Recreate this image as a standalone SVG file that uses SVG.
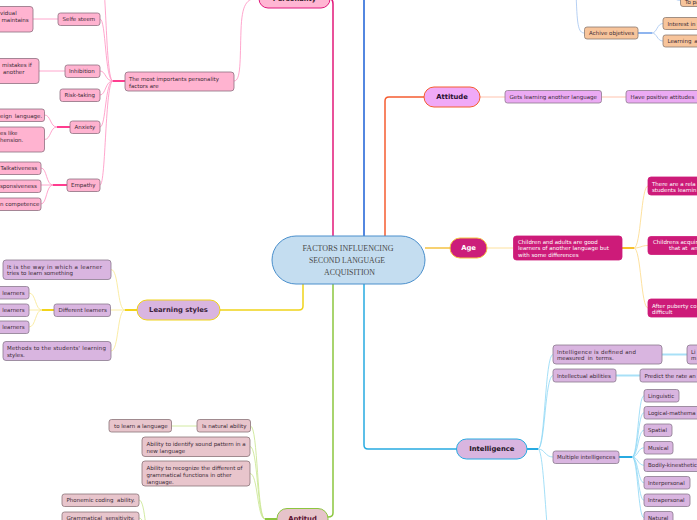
<svg xmlns="http://www.w3.org/2000/svg" width="697" height="520" viewBox="0 0 697 520">
<style>
.t{font-family:"DejaVu Sans",Verdana,sans-serif;font-size:5.5px;fill:#3a2a35}
.w{fill:#ffffff}
.b{font-family:"DejaVu Sans",Verdana,sans-serif;font-weight:bold;font-size:6.8px;text-anchor:middle}
.c{font-family:"Liberation Serif","DejaVu Serif",serif;font-size:9px;fill:#4a4a4a;text-anchor:middle}
.pk{fill:#ffb3d0;stroke:#8e7080;stroke-width:0.8}
.vi{fill:#ebaaf3;stroke:#8e7a8e;stroke-width:0.8}
.pe{fill:#f7c49b;stroke:#8a7a70;stroke-width:0.8}
.mg{fill:#cd1b79;stroke:#cd1b79;stroke-width:0.8}
.lv{fill:#d9b5e0;stroke:#8a7a8e;stroke-width:0.8}
.ro{fill:#e8c5cc;stroke:#8a7478;stroke-width:0.8}
.l{fill:none;stroke-width:0.8}
.m{fill:none;stroke-width:1.5}
.k{fill:none;stroke-width:2}
</style>
<rect x="0" y="0" width="697" height="520" fill="#ffffff"/>
<g id="connectors">
  <!-- main -->
  <path class="m" stroke="#e2187a" d="M333,236 V4 Q333,-2 328,-2"/>
  <path class="m" stroke="#1a5fd6" d="M364,236 V-10"/>
  <path class="m" stroke="#f55c30" d="M385,236 V101 Q385,97 389,97 H424"/>
  <path class="m" stroke="#f5c242" d="M425,248 H450"/>
  <path class="m" stroke="#f0d31a" d="M303,284 V306 Q303,310 299,310 H220"/>
  <path class="m" stroke="#8cc63f" d="M333,284 V513 Q333,517 328,517"/>
  <path class="m" stroke="#27aae1" d="M364,284 V445 Q364,449 368,449 H457"/>
  <!-- personality -->
  <path class="l" stroke="#ff8fc0" d="M234,81 C241,81 240,60 241,30 C242,5 246,-2 259,-2"/>
  <path class="k" stroke="#ff3d8f" d="M113,81 H125"/>
  <path class="l" stroke="#ff8fc0" d="M113,81 C105,81 107,-30 100,-30"/>
  <path class="l" stroke="#ff8fc0" d="M113,81 C105,81 106,19 100,19"/>
  <path class="l" stroke="#ff8fc0" d="M113,81 C105,81 106,71 100,71"/>
  <path class="l" stroke="#ff8fc0" d="M113,81 C105,81 106,95 100,95"/>
  <path class="l" stroke="#ff8fc0" d="M113,81 C105,81 106,127 100,127"/>
  <path class="l" stroke="#ff8fc0" d="M113,81 C105,81 106,185 100,185"/>
  <path class="l" stroke="#ff8fc0" d="M58,19 H33"/>
  <path class="l" stroke="#ff8fc0" d="M65,71 H39"/>
  <path class="k" stroke="#ff3d8f" d="M57,127 H70"/>
  <path class="l" stroke="#ff8fc0" d="M57,127 C50,127 51,115 44.5,115"/>
  <path class="l" stroke="#ff8fc0" d="M57,127 C50,127 51,139.5 44.5,139.5"/>
  <path class="k" stroke="#ff3d8f" d="M53,185 H67"/>
  <path class="l" stroke="#ff8fc0" d="M53,185 C46,185 47,168 41,168"/>
  <path class="l" stroke="#ff8fc0" d="M53,185 H41"/>
  <path class="l" stroke="#ff8fc0" d="M53,185 C46,185 47,204 41,204"/>
  <!-- blue top -->
  <path class="l" stroke="#a3c4f0" d="M576,-10 C577,25 578,33 584.5,33"/>
  <path class="l" stroke="#a3c4f0" d="M672,-20 C672,-4 674,0.5 680.5,0.5"/>
  <path class="k" stroke="#8fb5ef" d="M638,33 H652"/>
  <path class="l" stroke="#a3c4f0" d="M652,33 C657,33 657,23.5 663,23.5"/>
  <path class="l" stroke="#a3c4f0" d="M652,33 C657,33 657,41 663,41"/>
  <!-- attitude -->
  <path class="l" stroke="#ffb49a" d="M480,97 H505"/>
  <path class="l" stroke="#ffb49a" d="M601.5,97 H626"/>
  <!-- age -->
  <path class="l" stroke="#fdd986" d="M487,248 H513.5"/>
  <path class="k" stroke="#f7c12b" d="M622,248 H634"/>
  <path class="l" stroke="#fdd986" d="M634,248 C641,248 641,186 648,186"/>
  <path class="l" stroke="#fdd986" d="M634,248 C641,248 641,245.5 648,245.5"/>
  <path class="l" stroke="#fdd986" d="M634,248 C641,248 641,308 648,308"/>
  <!-- learning styles -->
  <path class="k" stroke="#f2d41a" d="M125,310 H137"/>
  <path class="l" stroke="#f9e78e" d="M125,310 C117,310 119,269.5 111,269.5"/>
  <path class="l" stroke="#f9e78e" d="M125,310 H110.5"/>
  <path class="l" stroke="#f9e78e" d="M125,310 C117,310 119,351 111,351"/>
  <path class="k" stroke="#f2d41a" d="M42,310 H54"/>
  <path class="l" stroke="#f9e78e" d="M42,310 C35,310 36,293 29,293"/>
  <path class="l" stroke="#f9e78e" d="M42,310 H29"/>
  <path class="l" stroke="#f9e78e" d="M42,310 C35,310 36,327 29,327"/>
  <!-- intelligence -->
  <path class="k" stroke="#27aae1" d="M527,449 H538"/>
  <path class="l" stroke="#8dd7f5" d="M538,449 C545,449 545,354.5 553,354.5"/>
  <path class="l" stroke="#8dd7f5" d="M538,449 C545,449 545,375.5 553,375.5"/>
  <path class="l" stroke="#8dd7f5" d="M538,449 C545,449 545,457 553,457"/>
  <path class="l" stroke="#8dd7f5" d="M538,449 C545,449 546,560 553,560"/>
  <path class="k" stroke="#a8e0f7" d="M662,354.5 H687"/>
  <path class="k" stroke="#a8e0f7" d="M616,375.5 H640"/>
  <path class="k" stroke="#27aae1" d="M619,457 H632"/>
  <path class="l" stroke="#8dd7f5" d="M632,457 C638,457 638,395.75 644,395.75"/>
  <path class="l" stroke="#8dd7f5" d="M632,457 C638,457 638,412.75 644,412.75"/>
  <path class="l" stroke="#8dd7f5" d="M632,457 C638,457 638,430.25 644,430.25"/>
  <path class="l" stroke="#8dd7f5" d="M632,457 C638,457 638,447.75 644,447.75"/>
  <path class="l" stroke="#8dd7f5" d="M632,457 C638,457 638,465.25 644,465.25"/>
  <path class="l" stroke="#8dd7f5" d="M632,457 C638,457 638,482.75 644,482.75"/>
  <path class="l" stroke="#8dd7f5" d="M632,457 C638,457 638,500.25 644,500.25"/>
  <path class="l" stroke="#8dd7f5" d="M632,457 C638,457 638,517.75 644,517.75"/>
  <!-- aptitud -->
  <path class="k" stroke="#8cc63f" d="M265,519 H277"/>
  <path class="l" stroke="#c6e58c" d="M265,519 C257,519 258,426 250.5,426"/>
  <path class="l" stroke="#c6e58c" d="M265,519 C257,519 258,446.5 250,446.5"/>
  <path class="l" stroke="#c6e58c" d="M265,519 C257,519 258,473.5 250,473.5"/>
  <path class="l" stroke="#c6e58c" d="M197,426 H171.5"/>
  <path class="l" stroke="#c6e58c" d="M152,545 C145,545 146,500 139,500"/>
  <path class="l" stroke="#c6e58c" d="M152,545 C145,545 146,518 139,518"/>
</g>
<g id="center">
  <rect x="272" y="236" width="153" height="48" rx="24" fill="#c4ddf0" stroke="#4a8fcc" stroke-width="1"/>
  <text class="c" x="348" y="250.5" textLength="91" lengthAdjust="spacingAndGlyphs">FACTORS INFLUENCING</text>
  <text class="c" x="347" y="262.5" textLength="76" lengthAdjust="spacingAndGlyphs">SECOND LANGUAGE</text>
  <text class="c" x="349.5" y="275" textLength="51" lengthAdjust="spacingAndGlyphs">ACQUISITION</text>
</g>
<g id="personality">
  <rect x="259" y="-12" width="71" height="20" rx="9" fill="#ffb6d3" stroke="#e0197c" stroke-width="1"/>
  <text class="b" x="294.5" y="0.6" fill="#3a1a2a">Personality</text>
</g>
<g id="p-factors"><rect class="pk" x="125" y="72" width="109" height="19" rx="3"/><text class="t" x="129" y="81.2">The most importants personality</text><text class="t" x="129" y="87.6">factors are</text></g>
<g id="p-selfe"><rect class="pk" x="58" y="13" width="42" height="12.5" rx="2.5"/><text class="t" x="62.5" y="21.3">Selfe steem</text></g>
<g id="p-selfe-c"><rect class="pk" x="-60" y="6.5" width="93" height="25.5" rx="3"/><text class="t" x="0" y="15.3">vidual</text><text class="t" x="1.5" y="22">maintains</text></g>
<g id="p-inhib"><rect class="pk" x="65" y="65" width="35" height="12.5" rx="2.5"/><text class="t" x="69" y="73.4">Inhibition</text></g>
<g id="p-inhib-c"><rect class="pk" x="-60" y="58.5" width="99" height="25" rx="3"/><text class="t" x="2" y="67">mistakes if</text><text class="t" x="3" y="73.7">another</text></g>
<g id="p-risk"><rect class="pk" x="60" y="89" width="40" height="12.5" rx="2.5"/><text class="t" x="64.5" y="97.4">Risk-taking</text></g>
<g id="p-anx"><rect class="pk" x="70" y="121" width="30" height="12.5" rx="2.5"/><text class="t" x="74.5" y="129.4">Anxiety</text></g>
<g id="p-anx-1"><rect class="pk" x="-60" y="109" width="104.5" height="12.5" rx="2.5"/><text class="t" x="0" y="117.8" word-spacing="1.2">eign language.</text></g>
<g id="p-anx-2"><rect class="pk" x="-60" y="127" width="104.5" height="25" rx="3"/><text class="t" x="0" y="135.3">es like</text><text class="t" x="0" y="142">hension.</text></g>
<g id="p-emp"><rect class="pk" x="67" y="179" width="33" height="12.5" rx="2.5"/><text class="t" x="71" y="187.4">Empathy</text></g>
<g id="p-emp-1"><rect class="pk" x="-60" y="162" width="101" height="12.5" rx="2.5"/><text class="t" x="0.5" y="170.4">Talkativeness</text></g>
<g id="p-emp-2"><rect class="pk" x="-60" y="180" width="101" height="12.5" rx="2.5"/><text class="t" x="0" y="188.4">sponsiveness</text></g>
<g id="p-emp-3"><rect class="pk" x="-60" y="198" width="101" height="12.5" rx="2.5"/><text class="t" x="0" y="206.4">n competence</text></g>
<g id="achive"><rect class="pe" x="584.5" y="27" width="53.5" height="12" rx="2.5"/><text class="t" x="589" y="35.2">Achive objetives</text></g>
<g id="to-pa"><rect class="pe" x="680.5" y="-6" width="40" height="12.5" rx="2.5"/><text class="t" x="685" y="3.5">To pa</text></g>
<g id="interest"><rect class="pe" x="663" y="17.5" width="60" height="12" rx="2.5"/><text class="t" x="667.5" y="25.8">Interest in</text></g>
<g id="learning-a"><rect class="pe" x="663" y="35" width="60" height="12" rx="2.5"/><text class="t" x="667.5" y="43.3" word-spacing="1.2">Learning a</text></g>
<g id="attitude">
  <rect x="424" y="87" width="56" height="20" rx="10" fill="#f0a9f7" stroke="#f55c30" stroke-width="1"/>
  <text class="b" x="452" y="99.4" fill="#2a1030">Attitude</text>
</g>
<g id="att-1"><rect class="vi" x="505" y="90.5" width="96.5" height="12.5" rx="2.5"/><text class="t" x="509.5" y="98.9">Gets learning another language</text></g>
<g id="att-2"><rect class="vi" x="626" y="90.5" width="100" height="12.5" rx="2.5"/><text class="t" x="630.5" y="98.9">Have positive attitudes</text></g>
<g id="age">
  <rect x="450" y="238" width="37" height="20" rx="10" fill="#cc1e7a" stroke="#f5c242" stroke-width="1"/>
  <text class="b" x="468.5" y="250.4" fill="#ffffff">Age</text>
</g>
<g id="age-1"><rect class="mg" x="513.5" y="236" width="108.5" height="24" rx="3"/><text class="t w" x="518" y="243.7">Children and adults are good</text><text class="t w" x="518" y="250.3">learners of another language but</text><text class="t w" x="518" y="257">with some differences</text></g>
<g id="age-a"><rect class="mg" x="648" y="177" width="80" height="18" rx="3"/><text class="t w" x="652" y="185.8">There are a rela</text><text class="t w" x="652" y="192">students learnin</text></g>
<g id="age-b"><rect class="mg" x="648" y="236.5" width="80" height="18" rx="3"/><text class="t w" x="653" y="243.7">Childrens acquir</text><text class="t w" x="669" y="250.2" xml:space="preserve">that at  an</text></g>
<g id="age-c"><rect class="mg" x="648" y="299" width="80" height="18" rx="3"/><text class="t w" x="652" y="307.7">After puberty co</text><text class="t w" x="652" y="313.9">difficult</text></g>
<g id="learning-styles">
  <rect x="137" y="300" width="83" height="20" rx="10" fill="#d9b5e0" stroke="#f0d31a" stroke-width="1"/>
  <text class="b" x="178.5" y="312.4" fill="#3b1f3b">Learning styles</text>
</g>
<g id="ls-1"><rect class="lv" x="3" y="260" width="108" height="19.5" rx="3"/><text class="t" x="7" y="268.6" textLength="95" lengthAdjust="spacing">It is the way in which a learner</text><text class="t" x="7" y="275.3">tries to learn something</text></g>
<g id="ls-2"><rect class="lv" x="54" y="304" width="56.5" height="12.5" rx="2.5"/><text class="t" x="58.5" y="312.4">Different learners</text></g>
<g id="ls-2a"><rect class="lv" x="-30" y="286.5" width="59" height="12.5" rx="2.5"/><text class="t" x="2.2" y="294.9">learners</text></g>
<g id="ls-2b"><rect class="lv" x="-30" y="304" width="59" height="12.5" rx="2.5"/><text class="t" x="2.2" y="312.4">learners</text></g>
<g id="ls-2c"><rect class="lv" x="-30" y="321" width="59" height="12.5" rx="2.5"/><text class="t" x="2.2" y="329.4">learners</text></g>
<g id="ls-3"><rect class="lv" x="3" y="341.5" width="108" height="19" rx="3"/><text class="t" x="7" y="350.3" textLength="99" lengthAdjust="spacing">Methods to the students' learning</text><text class="t" x="7" y="357">styles.</text></g>
<g id="intelligence">
  <rect x="456.5" y="439" width="70.5" height="20" rx="10" fill="#d9b5e0" stroke="#27aae1" stroke-width="1"/>
  <text class="b" x="491.8" y="451.4" fill="#1e1424">Intelligence</text>
</g>
<g id="in-1"><rect class="lv" x="553" y="345" width="109" height="19" rx="3"/><text class="t" x="557" y="353.7" textLength="79" lengthAdjust="spacing">Intelligence is defined and</text><text class="t" x="557" y="360.3" word-spacing="1.5">measured in terms.</text></g>
<g id="in-1a"><rect class="lv" x="687" y="345" width="40" height="19" rx="3"/><text class="t" x="691" y="353.7">Li</text><text class="t" x="691" y="360.3">m</text></g>
<g id="in-2"><rect class="lv" x="553" y="369" width="63" height="13" rx="2.5"/><text class="t" x="557" y="377.7">Intellectual abilities</text></g>
<g id="in-2a"><rect class="lv" x="640" y="369" width="90" height="13" rx="2.5"/><text class="t" x="644.5" y="377.7">Predict the rate an</text></g>
<g id="in-3"><rect class="lv" x="553" y="451" width="66" height="12.5" rx="2.5"/><text class="t" x="557" y="459.4">Multiple intelligences</text></g>
<g id="mi-1"><rect class="lv" x="644" y="389.5" width="35" height="12.5" rx="2.5"/><text class="t" x="648" y="397.9">Linguistic</text></g>
<g id="mi-2"><rect class="lv" x="644" y="406.5" width="70" height="12.5" rx="2.5"/><text class="t" x="648" y="414.9">Logical-mathema</text></g>
<g id="mi-3"><rect class="lv" x="644" y="424" width="28" height="12.5" rx="2.5"/><text class="t" x="648" y="432.4">Spatial</text></g>
<g id="mi-4"><rect class="lv" x="644" y="441.5" width="29" height="12.5" rx="2.5"/><text class="t" x="648" y="449.9">Musical</text></g>
<g id="mi-5"><rect class="lv" x="644" y="459" width="65" height="12.5" rx="2.5"/><text class="t" x="648" y="467.4">Bodily-kinesthetic</text></g>
<g id="mi-6"><rect class="lv" x="644" y="476.5" width="46" height="12.5" rx="2.5"/><text class="t" x="648" y="484.9">Interpersonal</text></g>
<g id="mi-7"><rect class="lv" x="644" y="494" width="46" height="12.5" rx="2.5"/><text class="t" x="648" y="502.4">Intrapersonal</text></g>
<g id="mi-8"><rect class="lv" x="644" y="511.5" width="29" height="12.5" rx="2.5"/><text class="t" x="648" y="519.9">Natural</text></g>
<g id="aptitud">
  <rect x="277" y="508.5" width="51" height="22" rx="10" fill="#e6c3ca" stroke="#8cc63f" stroke-width="1"/>
  <text class="b" x="302.5" y="521" fill="#5a1030">Aptitud</text>
</g>
<g id="ap-1"><rect class="ro" x="197" y="419.5" width="53.5" height="12.5" rx="2.5"/><text class="t" x="202" y="427.9">Is natural ability</text></g>
<g id="ap-1a"><rect class="ro" x="109" y="419.5" width="62.5" height="12.5" rx="2.5"/><text class="t" x="114" y="427.9">to learn a language</text></g>
<g id="ap-2"><rect class="ro" x="142" y="437" width="108" height="19.5" rx="3"/><text class="t" x="146.5" y="446">Ability to identify sound pattern in a</text><text class="t" x="146.5" y="452.7">new language</text></g>
<g id="ap-3"><rect class="ro" x="142" y="461" width="108" height="25" rx="3"/><text class="t" x="146.5" y="470.3">Ability to recognize the different of</text><text class="t" x="146.5" y="477">grammatical functions in other</text><text class="t" x="146.5" y="483.5">language.</text></g>
<g id="ap-4"><rect class="ro" x="62" y="494" width="77" height="12.5" rx="2.5"/><text class="t" x="66.5" y="502.4" xml:space="preserve">Phonemic coding  ability.</text></g>
<g id="ap-5"><rect class="ro" x="62" y="512" width="77" height="12.5" rx="2.5"/><text class="t" x="66.5" y="520.4" xml:space="preserve">Grammatical  sensitivity.</text></g>
</svg>
